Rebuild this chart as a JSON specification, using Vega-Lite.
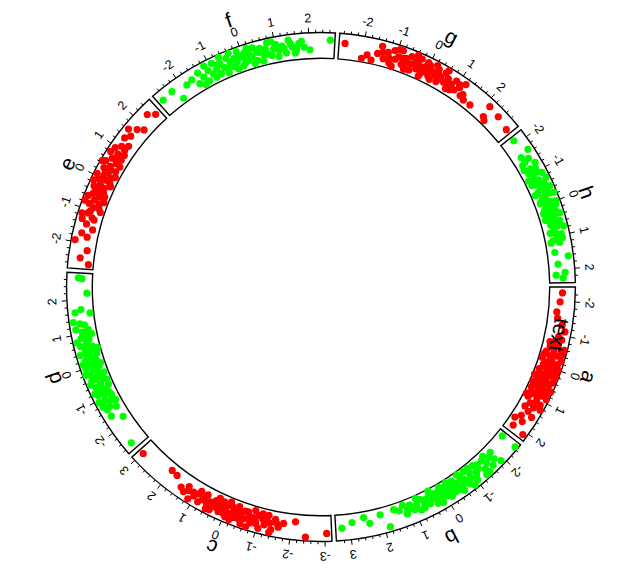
{
"$schema": "https://vega.github.io/schema/vega-lite/v6.json",
"width": 636, "height": 575, "autosize": "none", "padding": 0, "background": "white",
"config": {"view": {"stroke": null}},
"datasets": {
"xlim": [
{"s":"a","xmin":-2.3,"xmax":2.12},{"s":"b","xmin":-2.48,"xmax":3.3},{"s":"c","xmin":-3.07,"xmax":3.0},{"s":"d","xmin":-2.61,"xmax":2.68},
{"s":"e","xmin":-2.64,"xmax":2.52},{"s":"f","xmin":-2.71,"xmax":2.63},{"s":"g","xmin":-2.6,"xmax":2.98},{"s":"h","xmin":-2.12,"xmax":2.28}],
"main": [
{"k":"sec","s":"a"},{"k":"sec","s":"b"},{"k":"sec","s":"c"},{"k":"sec","s":"d"},{"k":"sec","s":"e"},{"k":"sec","s":"f"},{"k":"sec","s":"g"},{"k":"sec","s":"h"},
{"k":"t","s":"a","v":[-2.2,-2,-1.8,-1.6,-1.4,-1.2,-1,-0.8,-0.6,-0.4,-0.2,0,0.2,0.4,0.6,0.8,1,1.2,1.4,1.6,1.8,2]},
{"k":"t","s":"b","v":[-2.4,-2.2,-2,-1.8,-1.6,-1.4,-1.2,-1,-0.8,-0.6,-0.4,-0.2,0,0.2,0.4,0.6,0.8,1,1.2,1.4,1.6,1.8,2,2.2,2.4,2.6,2.8,3,3.2]},
{"k":"t","s":"c","v":[-3,-2.8,-2.6,-2.4,-2.2,-2,-1.8,-1.6,-1.4,-1.2,-1,-0.8,-0.6,-0.4,-0.2,0,0.2,0.4,0.6,0.8,1,1.2,1.4,1.6,1.8,2,2.2,2.4,2.6,2.8,3]},
{"k":"t","s":"d","v":[-2.6,-2.4,-2.2,-2,-1.8,-1.6,-1.4,-1.2,-1,-0.8,-0.6,-0.4,-0.2,0,0.2,0.4,0.6,0.8,1,1.2,1.4,1.6,1.8,2,2.2,2.4,2.6]},
{"k":"t","s":"e","v":[-2.6,-2.4,-2.2,-2,-1.8,-1.6,-1.4,-1.2,-1,-0.8,-0.6,-0.4,-0.2,0,0.2,0.4,0.6,0.8,1,1.2,1.4,1.6,1.8,2,2.2,2.4]},
{"k":"t","s":"f","v":[-2.6,-2.4,-2.2,-2,-1.8,-1.6,-1.4,-1.2,-1,-0.8,-0.6,-0.4,-0.2,0,0.2,0.4,0.6,0.8,1,1.2,1.4,1.6,1.8,2,2.2,2.4,2.6]},
{"k":"t","s":"g","v":[-2.6,-2.4,-2.2,-2,-1.8,-1.6,-1.4,-1.2,-1,-0.8,-0.6,-0.4,-0.2,0,0.2,0.4,0.6,0.8,1,1.2,1.4,1.6,1.8,2,2.2,2.4,2.6,2.8]},
{"k":"t","s":"h","v":[-2,-1.8,-1.6,-1.4,-1.2,-1,-0.8,-0.6,-0.4,-0.2,0,0.2,0.4,0.6,0.8,1,1.2,1.4,1.6,1.8,2,2.2]},
{"k":"lab","s":"a","x":-1,"y":0.5,"label":"text"},
{"k":"p","s":"a","x":-2.25,"y":0.5},{"k":"p","s":"a","x":-1.98,"y":0.42},{"k":"p","s":"a","x":-1.67,"y":0.32},{"k":"p","s":"a","x":-1.49,"y":0.38},{"k":"p","s":"a","x":-1.3,"y":0.6},{"k":"p","s":"a","x":-1.12,"y":0.76},{"k":"p","s":"a","x":-0.95,"y":0.55},{"k":"p","s":"a","x":-0.87,"y":0.7},{"k":"p","s":"a","x":-0.78,"y":0.42},{"k":"p","s":"a","x":-0.7,"y":0.62},{"k":"p","s":"a","x":-0.62,"y":0.3},{"k":"p","s":"a","x":-0.55,"y":0.8},{"k":"p","s":"a","x":-0.5,"y":0.5},{"k":"p","s":"a","x":-0.44,"y":0.2},{"k":"p","s":"a","x":-0.38,"y":0.66},{"k":"p","s":"a","x":-0.33,"y":0.4},{"k":"p","s":"a","x":-0.27,"y":0.9},{"k":"p","s":"a","x":-0.22,"y":0.12},{"k":"p","s":"a","x":-0.18,"y":0.55},{"k":"p","s":"a","x":-0.12,"y":0.35},{"k":"p","s":"a","x":-0.08,"y":0.75},{"k":"p","s":"a","x":-0.03,"y":0.25},{"k":"p","s":"a","x":0.02,"y":0.6},{"k":"p","s":"a","x":0.06,"y":0.45},{"k":"p","s":"a","x":0.1,"y":0.85},{"k":"p","s":"a","x":0.14,"y":0.15},{"k":"p","s":"a","x":0.18,"y":0.5},{"k":"p","s":"a","x":0.22,"y":0.7},{"k":"p","s":"a","x":0.26,"y":0.3},{"k":"p","s":"a","x":0.3,"y":0.58},{"k":"p","s":"a","x":0.34,"y":0.1},{"k":"p","s":"a","x":0.38,"y":0.88},{"k":"p","s":"a","x":0.42,"y":0.42},{"k":"p","s":"a","x":0.46,"y":0.65},{"k":"p","s":"a","x":0.5,"y":0.22},{"k":"p","s":"a","x":0.55,"y":0.5},{"k":"p","s":"a","x":0.6,"y":0.78},{"k":"p","s":"a","x":0.64,"y":0.35},{"k":"p","s":"a","x":0.7,"y":0.6},{"k":"p","s":"a","x":0.75,"y":0.15},{"k":"p","s":"a","x":0.8,"y":0.45},{"k":"p","s":"a","x":0.86,"y":0.7},{"k":"p","s":"a","x":0.92,"y":0.3},{"k":"p","s":"a","x":0.98,"y":0.55},{"k":"p","s":"a","x":1.05,"y":0.2},{"k":"p","s":"a","x":1.12,"y":0.8},{"k":"p","s":"a","x":1.2,"y":0.4},{"k":"p","s":"a","x":1.28,"y":0.62},{"k":"p","s":"a","x":1.36,"y":0.28},{"k":"p","s":"a","x":1.45,"y":0.5},{"k":"p","s":"a","x":1.55,"y":0.75},{"k":"p","s":"a","x":1.66,"y":0.35},{"k":"p","s":"a","x":1.8,"y":0.52},{"k":"p","s":"a","x":1.81,"y":0.17},{"k":"p","s":"a","x":2.04,"y":0.3},{"k":"p","s":"a","x":2.1,"y":0.84},{"k":"p","s":"a","x":0.0,"y":0.9},{"k":"p","s":"a","x":0.35,"y":0.05},{"k":"p","s":"a","x":0.65,"y":0.95},{"k":"p","s":"a","x":-0.6,"y":0.9},{"k":"p","s":"a","x":0.9,"y":0.92},{"k":"p","s":"a","x":1.0,"y":0.08},
{"k":"p","s":"a","x":-0.75,"y":0.25},{"k":"p","s":"a","x":-0.65,"y":0.5},{"k":"p","s":"a","x":-0.45,"y":0.85},{"k":"p","s":"a","x":-0.35,"y":0.15},{"k":"p","s":"a","x":-0.25,"y":0.45},{"k":"p","s":"a","x":-0.15,"y":0.8},{"k":"p","s":"a","x":-0.05,"y":0.5},{"k":"p","s":"a","x":0.04,"y":0.3},{"k":"p","s":"a","x":0.12,"y":0.65},{"k":"p","s":"a","x":0.2,"y":0.92},{"k":"p","s":"a","x":0.28,"y":0.45},{"k":"p","s":"a","x":0.4,"y":0.2},{"k":"p","s":"a","x":0.48,"y":0.78},{"k":"p","s":"a","x":0.58,"y":0.1},{"k":"p","s":"a","x":0.68,"y":0.45},{"k":"p","s":"a","x":0.78,"y":0.85},{"k":"p","s":"a","x":0.88,"y":0.5},{"k":"p","s":"a","x":0.96,"y":0.15},{"k":"p","s":"a","x":1.08,"y":0.6},{"k":"p","s":"a","x":1.25,"y":0.9},
{"k":"p","s":"b","x":-2.47,"y":0.22},{"k":"p","s":"b","x":-2.46,"y":0.9},{"k":"p","s":"b","x":-1.9,"y":0.85},{"k":"p","s":"b","x":-1.8,"y":0.6},{"k":"p","s":"b","x":-1.72,"y":0.4},{"k":"p","s":"b","x":-1.65,"y":0.75},{"k":"p","s":"b","x":-1.55,"y":0.5},{"k":"p","s":"b","x":-1.48,"y":0.3},{"k":"p","s":"b","x":-1.4,"y":0.65},{"k":"p","s":"b","x":-1.33,"y":0.85},{"k":"p","s":"b","x":-1.25,"y":0.45},{"k":"p","s":"b","x":-1.18,"y":0.2},{"k":"p","s":"b","x":-1.1,"y":0.6},{"k":"p","s":"b","x":-1.03,"y":0.78},{"k":"p","s":"b","x":-0.97,"y":0.35},{"k":"p","s":"b","x":-0.9,"y":0.55},{"k":"p","s":"b","x":-0.84,"y":0.15},{"k":"p","s":"b","x":-0.78,"y":0.7},{"k":"p","s":"b","x":-0.72,"y":0.42},{"k":"p","s":"b","x":-0.66,"y":0.25},{"k":"p","s":"b","x":-0.6,"y":0.6},{"k":"p","s":"b","x":-0.55,"y":0.8},{"k":"p","s":"b","x":-0.5,"y":0.38},{"k":"p","s":"b","x":-0.44,"y":0.5},{"k":"p","s":"b","x":-0.38,"y":0.18},{"k":"p","s":"b","x":-0.32,"y":0.65},{"k":"p","s":"b","x":-0.27,"y":0.3},{"k":"p","s":"b","x":-0.22,"y":0.48},{"k":"p","s":"b","x":-0.16,"y":0.72},{"k":"p","s":"b","x":-0.1,"y":0.22},{"k":"p","s":"b","x":-0.05,"y":0.4},{"k":"p","s":"b","x":0.0,"y":0.58},{"k":"p","s":"b","x":0.06,"y":0.12},{"k":"p","s":"b","x":0.12,"y":0.35},{"k":"p","s":"b","x":0.18,"y":0.5},{"k":"p","s":"b","x":0.24,"y":0.25},{"k":"p","s":"b","x":0.3,"y":0.68},{"k":"p","s":"b","x":0.36,"y":0.4},{"k":"p","s":"b","x":0.42,"y":0.15},{"k":"p","s":"b","x":0.5,"y":0.55},{"k":"p","s":"b","x":0.58,"y":0.3},{"k":"p","s":"b","x":0.66,"y":0.45},{"k":"p","s":"b","x":0.74,"y":0.2},{"k":"p","s":"b","x":0.82,"y":0.62},{"k":"p","s":"b","x":0.9,"y":0.35},{"k":"p","s":"b","x":1.0,"y":0.5},{"k":"p","s":"b","x":1.1,"y":0.25},{"k":"p","s":"b","x":1.2,"y":0.4},{"k":"p","s":"b","x":1.3,"y":0.15},{"k":"p","s":"b","x":1.45,"y":0.32},{"k":"p","s":"b","x":1.6,"y":0.2},{"k":"p","s":"b","x":1.84,"y":0.82},{"k":"p","s":"b","x":2.04,"y":0.25},{"k":"p","s":"b","x":2.4,"y":0.49},{"k":"p","s":"b","x":2.55,"y":0.21},{"k":"p","s":"b","x":2.92,"y":0.34},{"k":"p","s":"b","x":3.24,"y":0.52},
{"k":"p","s":"b","x":-1.85,"y":0.3},{"k":"p","s":"b","x":-1.6,"y":0.2},{"k":"p","s":"b","x":-1.45,"y":0.85},{"k":"p","s":"b","x":-1.3,"y":0.3},{"k":"p","s":"b","x":-1.15,"y":0.5},{"k":"p","s":"b","x":-1.0,"y":0.15},{"k":"p","s":"b","x":-0.88,"y":0.88},{"k":"p","s":"b","x":-0.75,"y":0.55},{"k":"p","s":"b","x":-0.62,"y":0.1},{"k":"p","s":"b","x":-0.48,"y":0.7},{"k":"p","s":"b","x":-0.35,"y":0.45},{"k":"p","s":"b","x":-0.2,"y":0.1},{"k":"p","s":"b","x":-0.08,"y":0.62},{"k":"p","s":"b","x":0.04,"y":0.3},{"k":"p","s":"b","x":0.15,"y":0.75},{"k":"p","s":"b","x":0.28,"y":0.5},{"k":"p","s":"b","x":0.4,"y":0.05},{"k":"p","s":"b","x":0.55,"y":0.4},{"k":"p","s":"b","x":0.7,"y":0.6},{"k":"p","s":"b","x":0.85,"y":0.1},{"k":"p","s":"b","x":1.05,"y":0.35},{"k":"p","s":"b","x":1.25,"y":0.55},
{"k":"p","s":"c","x":-3.05,"y":0.7},{"k":"p","s":"c","x":-2.44,"y":0.87},{"k":"p","s":"c","x":-2.11,"y":0.28},{"k":"p","s":"c","x":-1.76,"y":0.41},{"k":"p","s":"c","x":-1.62,"y":0.6},{"k":"p","s":"c","x":-1.5,"y":0.3},{"k":"p","s":"c","x":-1.42,"y":0.75},{"k":"p","s":"c","x":-1.35,"y":0.5},{"k":"p","s":"c","x":-1.28,"y":0.2},{"k":"p","s":"c","x":-1.2,"y":0.62},{"k":"p","s":"c","x":-1.12,"y":0.4},{"k":"p","s":"c","x":-1.05,"y":0.82},{"k":"p","s":"c","x":-0.98,"y":0.3},{"k":"p","s":"c","x":-0.92,"y":0.55},{"k":"p","s":"c","x":-0.85,"y":0.15},{"k":"p","s":"c","x":-0.78,"y":0.7},{"k":"p","s":"c","x":-0.72,"y":0.45},{"k":"p","s":"c","x":-0.65,"y":0.28},{"k":"p","s":"c","x":-0.58,"y":0.6},{"k":"p","s":"c","x":-0.52,"y":0.85},{"k":"p","s":"c","x":-0.46,"y":0.38},{"k":"p","s":"c","x":-0.4,"y":0.52},{"k":"p","s":"c","x":-0.34,"y":0.2},{"k":"p","s":"c","x":-0.28,"y":0.7},{"k":"p","s":"c","x":-0.22,"y":0.45},{"k":"p","s":"c","x":-0.16,"y":0.3},{"k":"p","s":"c","x":-0.1,"y":0.62},{"k":"p","s":"c","x":-0.04,"y":0.8},{"k":"p","s":"c","x":0.02,"y":0.4},{"k":"p","s":"c","x":0.08,"y":0.55},{"k":"p","s":"c","x":0.14,"y":0.25},{"k":"p","s":"c","x":0.2,"y":0.72},{"k":"p","s":"c","x":0.26,"y":0.48},{"k":"p","s":"c","x":0.32,"y":0.6},{"k":"p","s":"c","x":0.38,"y":0.35},{"k":"p","s":"c","x":0.45,"y":0.8},{"k":"p","s":"c","x":0.52,"y":0.5},{"k":"p","s":"c","x":0.6,"y":0.65},{"k":"p","s":"c","x":0.68,"y":0.3},{"k":"p","s":"c","x":0.76,"y":0.58},{"k":"p","s":"c","x":0.85,"y":0.75},{"k":"p","s":"c","x":0.94,"y":0.45},{"k":"p","s":"c","x":1.04,"y":0.62},{"k":"p","s":"c","x":1.14,"y":0.85},{"k":"p","s":"c","x":1.25,"y":0.55},{"k":"p","s":"c","x":1.36,"y":0.7},{"k":"p","s":"c","x":1.49,"y":0.6},{"k":"p","s":"c","x":1.79,"y":0.32},{"k":"p","s":"c","x":2.0,"y":0.28},{"k":"p","s":"c","x":2.98,"y":0.58},
{"k":"p","s":"c","x":-1.55,"y":0.45},{"k":"p","s":"c","x":-1.38,"y":0.88},{"k":"p","s":"c","x":-1.25,"y":0.4},{"k":"p","s":"c","x":-1.1,"y":0.2},{"k":"p","s":"c","x":-0.95,"y":0.65},{"k":"p","s":"c","x":-0.82,"y":0.45},{"k":"p","s":"c","x":-0.7,"y":0.9},{"k":"p","s":"c","x":-0.55,"y":0.3},{"k":"p","s":"c","x":-0.42,"y":0.68},{"k":"p","s":"c","x":-0.3,"y":0.4},{"k":"p","s":"c","x":-0.18,"y":0.85},{"k":"p","s":"c","x":-0.06,"y":0.15},{"k":"p","s":"c","x":0.05,"y":0.7},{"k":"p","s":"c","x":0.18,"y":0.4},{"k":"p","s":"c","x":0.3,"y":0.2},{"k":"p","s":"c","x":0.42,"y":0.55},{"k":"p","s":"c","x":0.56,"y":0.85},{"k":"p","s":"c","x":0.72,"y":0.45},{"k":"p","s":"c","x":0.9,"y":0.3},{"k":"p","s":"c","x":1.1,"y":0.5},{"k":"p","s":"c","x":1.3,"y":0.4},
{"k":"p","s":"d","x":-2.54,"y":0.66},{"k":"p","s":"d","x":-1.76,"y":0.29},{"k":"p","s":"d","x":-1.57,"y":0.69},{"k":"p","s":"d","x":-1.39,"y":0.31},{"k":"p","s":"d","x":-1.3,"y":0.55},{"k":"p","s":"d","x":-1.22,"y":0.8},{"k":"p","s":"d","x":-1.15,"y":0.4},{"k":"p","s":"d","x":-1.08,"y":0.62},{"k":"p","s":"d","x":-1.0,"y":0.25},{"k":"p","s":"d","x":-0.93,"y":0.5},{"k":"p","s":"d","x":-0.86,"y":0.75},{"k":"p","s":"d","x":-0.8,"y":0.35},{"k":"p","s":"d","x":-0.74,"y":0.58},{"k":"p","s":"d","x":-0.68,"y":0.18},{"k":"p","s":"d","x":-0.62,"y":0.7},{"k":"p","s":"d","x":-0.56,"y":0.45},{"k":"p","s":"d","x":-0.5,"y":0.85},{"k":"p","s":"d","x":-0.45,"y":0.3},{"k":"p","s":"d","x":-0.39,"y":0.6},{"k":"p","s":"d","x":-0.33,"y":0.48},{"k":"p","s":"d","x":-0.28,"y":0.15},{"k":"p","s":"d","x":-0.22,"y":0.72},{"k":"p","s":"d","x":-0.16,"y":0.38},{"k":"p","s":"d","x":-0.1,"y":0.55},{"k":"p","s":"d","x":-0.05,"y":0.25},{"k":"p","s":"d","x":0.0,"y":0.8},{"k":"p","s":"d","x":0.05,"y":0.45},{"k":"p","s":"d","x":0.1,"y":0.62},{"k":"p","s":"d","x":0.16,"y":0.3},{"k":"p","s":"d","x":0.22,"y":0.7},{"k":"p","s":"d","x":0.28,"y":0.5},{"k":"p","s":"d","x":0.34,"y":0.18},{"k":"p","s":"d","x":0.4,"y":0.85},{"k":"p","s":"d","x":0.46,"y":0.4},{"k":"p","s":"d","x":0.52,"y":0.6},{"k":"p","s":"d","x":0.58,"y":0.28},{"k":"p","s":"d","x":0.65,"y":0.75},{"k":"p","s":"d","x":0.72,"y":0.48},{"k":"p","s":"d","x":0.8,"y":0.35},{"k":"p","s":"d","x":0.88,"y":0.65},{"k":"p","s":"d","x":0.96,"y":0.2},{"k":"p","s":"d","x":1.05,"y":0.55},{"k":"p","s":"d","x":1.15,"y":0.8},{"k":"p","s":"d","x":1.25,"y":0.42},{"k":"p","s":"d","x":1.37,"y":0.85},{"k":"p","s":"d","x":1.59,"y":0.13},{"k":"p","s":"d","x":1.64,"y":0.73},{"k":"p","s":"d","x":1.72,"y":0.48},{"k":"p","s":"d","x":2.2,"y":0.2},{"k":"p","s":"d","x":2.64,"y":0.4},{"k":"p","s":"d","x":2.66,"y":0.55},
{"k":"p","s":"d","x":-1.35,"y":0.7},{"k":"p","s":"d","x":-1.2,"y":0.2},{"k":"p","s":"d","x":-1.05,"y":0.85},{"k":"p","s":"d","x":-0.9,"y":0.3},{"k":"p","s":"d","x":-0.78,"y":0.85},{"k":"p","s":"d","x":-0.65,"y":0.5},{"k":"p","s":"d","x":-0.52,"y":0.15},{"k":"p","s":"d","x":-0.4,"y":0.75},{"k":"p","s":"d","x":-0.3,"y":0.4},{"k":"p","s":"d","x":-0.18,"y":0.9},{"k":"p","s":"d","x":-0.08,"y":0.4},{"k":"p","s":"d","x":0.02,"y":0.15},{"k":"p","s":"d","x":0.12,"y":0.85},{"k":"p","s":"d","x":0.25,"y":0.4},{"k":"p","s":"d","x":0.37,"y":0.6},{"k":"p","s":"d","x":0.5,"y":0.1},{"k":"p","s":"d","x":0.62,"y":0.5},{"k":"p","s":"d","x":0.78,"y":0.85},{"k":"p","s":"d","x":0.92,"y":0.45},{"k":"p","s":"d","x":1.1,"y":0.3},{"k":"p","s":"d","x":1.3,"y":0.6},
{"k":"p","s":"e","x":-2.62,"y":0.18},{"k":"p","s":"e","x":-2.44,"y":0.54},{"k":"p","s":"e","x":-2.2,"y":0.3},{"k":"p","s":"e","x":-1.94,"y":0.86},{"k":"p","s":"e","x":-1.8,"y":0.4},{"k":"p","s":"e","x":-1.71,"y":0.65},{"k":"p","s":"e","x":-1.55,"y":0.25},{"k":"p","s":"e","x":-1.42,"y":0.55},{"k":"p","s":"e","x":-1.3,"y":0.78},{"k":"p","s":"e","x":-1.2,"y":0.4},{"k":"p","s":"e","x":-1.1,"y":0.62},{"k":"p","s":"e","x":-0.97,"y":0.15},{"k":"p","s":"e","x":-0.9,"y":0.48},{"k":"p","s":"e","x":-0.82,"y":0.7},{"k":"p","s":"e","x":-0.75,"y":0.3},{"k":"p","s":"e","x":-0.68,"y":0.55},{"k":"p","s":"e","x":-0.62,"y":0.85},{"k":"p","s":"e","x":-0.55,"y":0.42},{"k":"p","s":"e","x":-0.48,"y":0.2},{"k":"p","s":"e","x":-0.42,"y":0.65},{"k":"p","s":"e","x":-0.36,"y":0.5},{"k":"p","s":"e","x":-0.3,"y":0.78},{"k":"p","s":"e","x":-0.24,"y":0.35},{"k":"p","s":"e","x":-0.18,"y":0.58},{"k":"p","s":"e","x":-0.12,"y":0.15},{"k":"p","s":"e","x":-0.06,"y":0.7},{"k":"p","s":"e","x":0.0,"y":0.45},{"k":"p","s":"e","x":0.06,"y":0.88},{"k":"p","s":"e","x":0.12,"y":0.3},{"k":"p","s":"e","x":0.18,"y":0.6},{"k":"p","s":"e","x":0.24,"y":0.5},{"k":"p","s":"e","x":0.3,"y":0.75},{"k":"p","s":"e","x":0.36,"y":0.25},{"k":"p","s":"e","x":0.42,"y":0.55},{"k":"p","s":"e","x":0.5,"y":0.82},{"k":"p","s":"e","x":0.58,"y":0.4},{"k":"p","s":"e","x":0.66,"y":0.65},{"k":"p","s":"e","x":0.75,"y":0.3},{"k":"p","s":"e","x":0.85,"y":0.55},{"k":"p","s":"e","x":0.96,"y":0.78},{"k":"p","s":"e","x":1.05,"y":0.4},{"k":"p","s":"e","x":1.22,"y":0.37},{"k":"p","s":"e","x":1.35,"y":0.7},{"k":"p","s":"e","x":1.5,"y":0.55},{"k":"p","s":"e","x":1.62,"y":0.8},{"k":"p","s":"e","x":1.77,"y":0.52},{"k":"p","s":"e","x":1.9,"y":0.3},{"k":"p","s":"e","x":2.3,"y":0.63},{"k":"p","s":"e","x":2.48,"y":0.4},
{"k":"p","s":"e","x":-1.25,"y":0.3},{"k":"p","s":"e","x":-1.15,"y":0.85},{"k":"p","s":"e","x":-1.02,"y":0.55},{"k":"p","s":"e","x":-0.88,"y":0.25},{"k":"p","s":"e","x":-0.78,"y":0.9},{"k":"p","s":"e","x":-0.65,"y":0.15},{"k":"p","s":"e","x":-0.52,"y":0.7},{"k":"p","s":"e","x":-0.4,"y":0.3},{"k":"p","s":"e","x":-0.28,"y":0.55},{"k":"p","s":"e","x":-0.15,"y":0.9},{"k":"p","s":"e","x":-0.03,"y":0.25},{"k":"p","s":"e","x":0.09,"y":0.6},{"k":"p","s":"e","x":0.2,"y":0.15},{"k":"p","s":"e","x":0.33,"y":0.45},{"k":"p","s":"e","x":0.45,"y":0.95},{"k":"p","s":"e","x":0.55,"y":0.2},{"k":"p","s":"e","x":0.7,"y":0.5},{"k":"p","s":"e","x":0.8,"y":0.85},{"k":"p","s":"e","x":0.92,"y":0.3},{"k":"p","s":"e","x":1.1,"y":0.6},
{"k":"p","s":"f","x":-2.68,"y":0.62},{"k":"p","s":"f","x":-2.32,"y":0.67},{"k":"p","s":"f","x":-2.16,"y":0.17},{"k":"p","s":"f","x":-1.85,"y":0.54},{"k":"p","s":"f","x":-1.65,"y":0.6},{"k":"p","s":"f","x":-1.5,"y":0.3},{"k":"p","s":"f","x":-1.4,"y":0.72},{"k":"p","s":"f","x":-1.3,"y":0.45},{"k":"p","s":"f","x":-1.2,"y":0.2},{"k":"p","s":"f","x":-1.1,"y":0.6},{"k":"p","s":"f","x":-1.0,"y":0.38},{"k":"p","s":"f","x":-0.92,"y":0.8},{"k":"p","s":"f","x":-0.85,"y":0.5},{"k":"p","s":"f","x":-0.78,"y":0.25},{"k":"p","s":"f","x":-0.7,"y":0.65},{"k":"p","s":"f","x":-0.62,"y":0.42},{"k":"p","s":"f","x":-0.55,"y":0.15},{"k":"p","s":"f","x":-0.48,"y":0.75},{"k":"p","s":"f","x":-0.4,"y":0.55},{"k":"p","s":"f","x":-0.33,"y":0.3},{"k":"p","s":"f","x":-0.26,"y":0.62},{"k":"p","s":"f","x":-0.2,"y":0.45},{"k":"p","s":"f","x":-0.13,"y":0.85},{"k":"p","s":"f","x":-0.06,"y":0.2},{"k":"p","s":"f","x":0.0,"y":0.55},{"k":"p","s":"f","x":0.07,"y":0.7},{"k":"p","s":"f","x":0.14,"y":0.35},{"k":"p","s":"f","x":0.2,"y":0.6},{"k":"p","s":"f","x":0.27,"y":0.45},{"k":"p","s":"f","x":0.34,"y":0.8},{"k":"p","s":"f","x":0.4,"y":0.25},{"k":"p","s":"f","x":0.47,"y":0.55},{"k":"p","s":"f","x":0.54,"y":0.7},{"k":"p","s":"f","x":0.62,"y":0.4},{"k":"p","s":"f","x":0.7,"y":0.62},{"k":"p","s":"f","x":0.78,"y":0.85},{"k":"p","s":"f","x":0.86,"y":0.3},{"k":"p","s":"f","x":0.94,"y":0.55},{"k":"p","s":"f","x":1.02,"y":0.72},{"k":"p","s":"f","x":1.1,"y":0.45},{"k":"p","s":"f","x":1.2,"y":0.6},{"k":"p","s":"f","x":1.3,"y":0.3},{"k":"p","s":"f","x":1.4,"y":0.8},{"k":"p","s":"f","x":1.5,"y":0.5},{"k":"p","s":"f","x":1.57,"y":0.25},{"k":"p","s":"f","x":1.7,"y":0.62},{"k":"p","s":"f","x":1.85,"y":0.45},{"k":"p","s":"f","x":2.02,"y":0.33},{"k":"p","s":"f","x":2.62,"y":0.72},
{"k":"p","s":"f","x":-1.35,"y":0.15},{"k":"p","s":"f","x":-1.15,"y":0.85},{"k":"p","s":"f","x":-0.95,"y":0.2},{"k":"p","s":"f","x":-0.8,"y":0.65},{"k":"p","s":"f","x":-0.66,"y":0.9},{"k":"p","s":"f","x":-0.52,"y":0.35},{"k":"p","s":"f","x":-0.36,"y":0.9},{"k":"p","s":"f","x":-0.23,"y":0.15},{"k":"p","s":"f","x":-0.1,"y":0.65},{"k":"p","s":"f","x":0.04,"y":0.3},{"k":"p","s":"f","x":0.17,"y":0.85},{"k":"p","s":"f","x":0.3,"y":0.15},{"k":"p","s":"f","x":0.44,"y":0.65},{"k":"p","s":"f","x":0.58,"y":0.15},{"k":"p","s":"f","x":0.74,"y":0.4},{"k":"p","s":"f","x":0.9,"y":0.85},{"k":"p","s":"f","x":1.06,"y":0.2},{"k":"p","s":"f","x":1.25,"y":0.5},{"k":"p","s":"f","x":1.45,"y":0.65},{"k":"p","s":"f","x":1.62,"y":0.4},{"k":"p","s":"f","x":1.78,"y":0.7},
{"k":"p","s":"g","x":-2.55,"y":0.63},{"k":"p","s":"g","x":-2.0,"y":0.12},{"k":"p","s":"g","x":-1.85,"y":0.3},{"k":"p","s":"g","x":-1.7,"y":0.13},{"k":"p","s":"g","x":-1.55,"y":0.45},{"k":"p","s":"g","x":-1.46,"y":0.78},{"k":"p","s":"g","x":-1.35,"y":0.3},{"k":"p","s":"g","x":-1.25,"y":0.6},{"k":"p","s":"g","x":-1.15,"y":0.2},{"k":"p","s":"g","x":-1.08,"y":0.75},{"k":"p","s":"g","x":-1.0,"y":0.42},{"k":"p","s":"g","x":-0.92,"y":0.55},{"k":"p","s":"g","x":-0.85,"y":0.85},{"k":"p","s":"g","x":-0.78,"y":0.3},{"k":"p","s":"g","x":-0.7,"y":0.6},{"k":"p","s":"g","x":-0.63,"y":0.42},{"k":"p","s":"g","x":-0.56,"y":0.75},{"k":"p","s":"g","x":-0.5,"y":0.2},{"k":"p","s":"g","x":-0.44,"y":0.5},{"k":"p","s":"g","x":-0.38,"y":0.65},{"k":"p","s":"g","x":-0.32,"y":0.35},{"k":"p","s":"g","x":-0.26,"y":0.82},{"k":"p","s":"g","x":-0.2,"y":0.48},{"k":"p","s":"g","x":-0.14,"y":0.25},{"k":"p","s":"g","x":-0.08,"y":0.6},{"k":"p","s":"g","x":-0.02,"y":0.4},{"k":"p","s":"g","x":0.04,"y":0.72},{"k":"p","s":"g","x":0.1,"y":0.3},{"k":"p","s":"g","x":0.16,"y":0.55},{"k":"p","s":"g","x":0.22,"y":0.85},{"k":"p","s":"g","x":0.28,"y":0.45},{"k":"p","s":"g","x":0.34,"y":0.62},{"k":"p","s":"g","x":0.4,"y":0.25},{"k":"p","s":"g","x":0.47,"y":0.5},{"k":"p","s":"g","x":0.54,"y":0.75},{"k":"p","s":"g","x":0.61,"y":0.38},{"k":"p","s":"g","x":0.68,"y":0.6},{"k":"p","s":"g","x":0.76,"y":0.2},{"k":"p","s":"g","x":0.84,"y":0.48},{"k":"p","s":"g","x":0.92,"y":0.7},{"k":"p","s":"g","x":1.0,"y":0.35},{"k":"p","s":"g","x":1.1,"y":0.55},{"k":"p","s":"g","x":1.2,"y":0.8},{"k":"p","s":"g","x":1.3,"y":0.4},{"k":"p","s":"g","x":1.41,"y":0.23},{"k":"p","s":"g","x":1.66,"y":0.24},{"k":"p","s":"g","x":2.14,"y":0.72},{"k":"p","s":"g","x":2.2,"y":0.25},{"k":"p","s":"g","x":2.3,"y":0.15},{"k":"p","s":"g","x":2.52,"y":0.67},{"k":"p","s":"g","x":2.96,"y":0.56},
{"k":"p","s":"g","x":-1.4,"y":0.55},{"k":"p","s":"g","x":-1.2,"y":0.4},{"k":"p","s":"g","x":-1.05,"y":0.1},{"k":"p","s":"g","x":-0.95,"y":0.85},{"k":"p","s":"g","x":-0.8,"y":0.55},{"k":"p","s":"g","x":-0.66,"y":0.15},{"k":"p","s":"g","x":-0.54,"y":0.45},{"k":"p","s":"g","x":-0.4,"y":0.9},{"k":"p","s":"g","x":-0.28,"y":0.55},{"k":"p","s":"g","x":-0.16,"y":0.12},{"k":"p","s":"g","x":-0.05,"y":0.8},{"k":"p","s":"g","x":0.07,"y":0.5},{"k":"p","s":"g","x":0.19,"y":0.2},{"k":"p","s":"g","x":0.31,"y":0.75},{"k":"p","s":"g","x":0.44,"y":0.4},{"k":"p","s":"g","x":0.58,"y":0.9},{"k":"p","s":"g","x":0.72,"y":0.45},{"k":"p","s":"g","x":0.88,"y":0.25},{"k":"p","s":"g","x":1.05,"y":0.65},{"k":"p","s":"g","x":1.25,"y":0.3},
{"k":"p","s":"h","x":-2.12,"y":0.52},{"k":"p","s":"h","x":-1.68,"y":0.78},{"k":"p","s":"h","x":-1.58,"y":0.37},{"k":"p","s":"h","x":-1.45,"y":0.6},{"k":"p","s":"h","x":-1.35,"y":0.25},{"k":"p","s":"h","x":-1.25,"y":0.75},{"k":"p","s":"h","x":-1.15,"y":0.45},{"k":"p","s":"h","x":-1.05,"y":0.3},{"k":"p","s":"h","x":-0.98,"y":0.62},{"k":"p","s":"h","x":-0.9,"y":0.8},{"k":"p","s":"h","x":-0.82,"y":0.4},{"k":"p","s":"h","x":-0.75,"y":0.55},{"k":"p","s":"h","x":-0.68,"y":0.2},{"k":"p","s":"h","x":-0.6,"y":0.68},{"k":"p","s":"h","x":-0.53,"y":0.45},{"k":"p","s":"h","x":-0.46,"y":0.85},{"k":"p","s":"h","x":-0.4,"y":0.3},{"k":"p","s":"h","x":-0.33,"y":0.58},{"k":"p","s":"h","x":-0.27,"y":0.72},{"k":"p","s":"h","x":-0.2,"y":0.38},{"k":"p","s":"h","x":-0.14,"y":0.5},{"k":"p","s":"h","x":-0.08,"y":0.22},{"k":"p","s":"h","x":-0.02,"y":0.65},{"k":"p","s":"h","x":0.04,"y":0.42},{"k":"p","s":"h","x":0.1,"y":0.8},{"k":"p","s":"h","x":0.16,"y":0.3},{"k":"p","s":"h","x":0.22,"y":0.55},{"k":"p","s":"h","x":0.28,"y":0.7},{"k":"p","s":"h","x":0.34,"y":0.4},{"k":"p","s":"h","x":0.4,"y":0.6},{"k":"p","s":"h","x":0.46,"y":0.2},{"k":"p","s":"h","x":0.52,"y":0.5},{"k":"p","s":"h","x":0.58,"y":0.75},{"k":"p","s":"h","x":0.65,"y":0.35},{"k":"p","s":"h","x":0.72,"y":0.6},{"k":"p","s":"h","x":0.8,"y":0.45},{"k":"p","s":"h","x":0.88,"y":0.25},{"k":"p","s":"h","x":0.96,"y":0.68},{"k":"p","s":"h","x":1.05,"y":0.5},{"k":"p","s":"h","x":1.12,"y":0.3},{"k":"p","s":"h","x":1.2,"y":0.55},{"k":"p","s":"h","x":1.48,"y":0.29},{"k":"p","s":"h","x":1.63,"y":0.81},{"k":"p","s":"h","x":1.84,"y":0.36},{"k":"p","s":"h","x":2.1,"y":0.62},{"k":"p","s":"h","x":2.17,"y":0.25},{"k":"p","s":"h","x":2.27,"y":0.53},
{"k":"p","s":"h","x":-1.4,"y":0.4},{"k":"p","s":"h","x":-1.2,"y":0.2},{"k":"p","s":"h","x":-1.1,"y":0.65},{"k":"p","s":"h","x":-0.95,"y":0.45},{"k":"p","s":"h","x":-0.85,"y":0.15},{"k":"p","s":"h","x":-0.72,"y":0.85},{"k":"p","s":"h","x":-0.62,"y":0.4},{"k":"p","s":"h","x":-0.5,"y":0.65},{"k":"p","s":"h","x":-0.36,"y":0.15},{"k":"p","s":"h","x":-0.24,"y":0.9},{"k":"p","s":"h","x":-0.11,"y":0.35},{"k":"p","s":"h","x":0.0,"y":0.85},{"k":"p","s":"h","x":0.13,"y":0.55},{"k":"p","s":"h","x":0.25,"y":0.2},{"k":"p","s":"h","x":0.37,"y":0.85},{"k":"p","s":"h","x":0.5,"y":0.3},{"k":"p","s":"h","x":0.62,"y":0.55},{"k":"p","s":"h","x":0.76,"y":0.85},{"k":"p","s":"h","x":0.92,"y":0.45},{"k":"p","s":"h","x":1.08,"y":0.7},{"k":"p","s":"h","x":1.18,"y":0.2}
]},
"data": {"name": "main"},
"transform": [
{"lookup": "s", "from": {"data": {"name": "xlim"}, "key": "s", "fields": ["xmin", "xmax"]}},
{"joinaggregate": [{"op": "count", "as": "n"}], "groupby": ["s"]},
{"calculate": "(datum.xmax - datum.xmin) / datum.n", "as": "w"},
{"window": [{"op": "sum", "field": "w", "as": "cum"}, {"op": "dense_rank", "as": "idx"}], "sort": [{"field": "s", "order": "ascending"}], "frame": [null, 0], "ignorePeers": false},
{"joinaggregate": [{"op": "sum", "field": "w", "as": "tot"}, {"op": "max", "field": "idx", "as": "ns"}]},
{"calculate": "(360 - 3 * datum.ns) / datum.tot", "as": "kd"},
{"calculate": "(datum.idx - 1) * 3 + (datum.cum - (datum.xmax - datum.xmin)) * datum.kd", "as": "a0"}
],
"layer": [
{"transform": [{"filter": "datum.k == 'sec'"},
  {"calculate": "datum.a0", "as": "t0"},
  {"calculate": "datum.a0 + 2 + (datum.xmax - datum.xmin) * datum.kd", "as": "t1"},
  {"calculate": "0.99", "as": "ro"},
  {"calculate": "0.89", "as": "ri"}],
 "mark": {"type": "arc", "fill": "transparent", "stroke": "#000000", "strokeWidth": 1.4},
 "encoding": {
  "x": {"datum": 0, "type": "quantitative", "scale": {"domain": [-1.24903, 1.22568], "nice": false, "zero": false}, "axis": null},
  "y": {"datum": 0, "type": "quantitative", "scale": {"domain": [-1.12062, 1.11673], "nice": false, "zero": false}, "axis": null},
  "theta": {"field": "t0", "type": "quantitative", "stack": null, "scale": {"domain": [-90, 270], "range": [0, 6.283185307]}},
  "theta2": {"field": "t1"},
  "radius": {"field": "ro", "type": "quantitative", "scale": {"type": "linear", "domain": [0, 1], "range": [0, 257], "zero": true}},
  "radius2": {"field": "ri"}
 }},
{"transform": [{"filter": "datum.k == 'p'"},
  {"calculate": "datum.a0 + 1 + (datum.x - datum.xmin) * datum.kd", "as": "th"},
  {"calculate": "0.892 + 0.096 * datum.y", "as": "r"},
  {"calculate": "datum.r * cos(datum.th * PI / 180)", "as": "px"},
  {"calculate": "-datum.r * sin(datum.th * PI / 180)", "as": "py"}],
 "mark": {"type": "circle", "size": 52, "opacity": 1},
 "encoding": {
  "x": {"field": "px", "type": "quantitative", "scale": {"domain": [-1.24903, 1.22568], "nice": false, "zero": false}, "axis": null},
  "y": {"field": "py", "type": "quantitative", "scale": {"domain": [-1.12062, 1.11673], "nice": false, "zero": false}, "axis": null},
  "color": {"field": "s", "type": "nominal", "scale": {"domain": ["a","b","c","d","e","f","g","h"], "range": ["#FF0000","#00FF00","#FF0000","#00FF00","#FF0000","#00FF00","#FF0000","#00FF00"]}, "legend": null}
 }},
{"transform": [{"filter": "datum.k == 't'"}, {"flatten": ["v"]},
  {"calculate": "datum.a0 + 1 + (datum.v - datum.xmin) * datum.kd", "as": "th"},
  {"calculate": "abs(datum.v - round(datum.v)) < 0.000001 ? 0.02 : 0.011", "as": "len"},
  {"calculate": "0.99 * cos(datum.th * PI / 180)", "as": "tx1"},
  {"calculate": "-0.99 * sin(datum.th * PI / 180)", "as": "ty1"},
  {"calculate": "(0.99 + datum.len) * cos(datum.th * PI / 180)", "as": "tx2"},
  {"calculate": "-(0.99 + datum.len) * sin(datum.th * PI / 180)", "as": "ty2"}],
 "mark": {"type": "rule", "color": "#000000", "strokeWidth": 1},
 "encoding": {
  "x": {"field": "tx1", "type": "quantitative", "scale": {"domain": [-1.24903, 1.22568], "nice": false, "zero": false}, "axis": null},
  "y": {"field": "ty1", "type": "quantitative", "scale": {"domain": [-1.12062, 1.11673], "nice": false, "zero": false}, "axis": null},
  "x2": {"field": "tx2"},
  "y2": {"field": "ty2"}
 }},
{"transform": [{"filter": "datum.k == 't'"}, {"flatten": ["v"]},
  {"filter": "abs(datum.v - round(datum.v)) < 0.000001"},
  {"calculate": "datum.a0 + 1 + (datum.v - datum.xmin) * datum.kd", "as": "th"},
  {"calculate": "1.047 * cos(datum.th * PI / 180)", "as": "lx"},
  {"calculate": "-1.047 * sin(datum.th * PI / 180)", "as": "ly"},
  {"calculate": "datum.th + 90", "as": "ang"},
  {"calculate": "'' + datum.v", "as": "lab"}],
 "mark": {"type": "text", "font": "Liberation Sans", "fontSize": 12.5, "align": "center", "baseline": "middle", "color": "#000000"},
 "encoding": {
  "x": {"field": "lx", "type": "quantitative", "scale": {"domain": [-1.24903, 1.22568], "nice": false, "zero": false}, "axis": null},
  "y": {"field": "ly", "type": "quantitative", "scale": {"domain": [-1.12062, 1.11673], "nice": false, "zero": false}, "axis": null},
  "text": {"field": "lab", "type": "nominal"},
  "angle": {"field": "ang", "type": "quantitative", "scale": null}
 }},
{"transform": [{"filter": "datum.k == 'sec'"},
  {"calculate": "datum.a0 + 1 + (datum.xmax - datum.xmin) * datum.kd / 2", "as": "th"},
  {"calculate": "1.07 * cos(datum.th * PI / 180)", "as": "lx"},
  {"calculate": "-1.07 * sin(datum.th * PI / 180)", "as": "ly"},
  {"calculate": "datum.th + 90", "as": "ang"}],
 "mark": {"type": "text", "font": "Liberation Sans", "fontSize": 21, "align": "center", "baseline": "alphabetic", "color": "#000000"},
 "encoding": {
  "x": {"field": "lx", "type": "quantitative", "scale": {"domain": [-1.24903, 1.22568], "nice": false, "zero": false}, "axis": null},
  "y": {"field": "ly", "type": "quantitative", "scale": {"domain": [-1.12062, 1.11673], "nice": false, "zero": false}, "axis": null},
  "text": {"field": "s", "type": "nominal"},
  "angle": {"field": "ang", "type": "quantitative", "scale": null}
 }},
{"transform": [{"filter": "datum.k == 'lab'"},
  {"calculate": "datum.a0 + 1 + (datum.x - datum.xmin) * datum.kd", "as": "th"},
  {"calculate": "0.892 + 0.096 * datum.y", "as": "r"},
  {"calculate": "datum.r * cos(datum.th * PI / 180)", "as": "lx"},
  {"calculate": "-datum.r * sin(datum.th * PI / 180)", "as": "ly"},
  {"calculate": "datum.th + 90", "as": "ang"}],
 "mark": {"type": "text", "font": "Liberation Sans", "fontSize": 21, "align": "center", "baseline": "middle", "color": "#000000"},
 "encoding": {
  "x": {"field": "lx", "type": "quantitative", "scale": {"domain": [-1.24903, 1.22568], "nice": false, "zero": false}, "axis": null},
  "y": {"field": "ly", "type": "quantitative", "scale": {"domain": [-1.12062, 1.11673], "nice": false, "zero": false}, "axis": null},
  "text": {"field": "label", "type": "nominal"},
  "angle": {"field": "ang", "type": "quantitative", "scale": null}
 }}
]
}
